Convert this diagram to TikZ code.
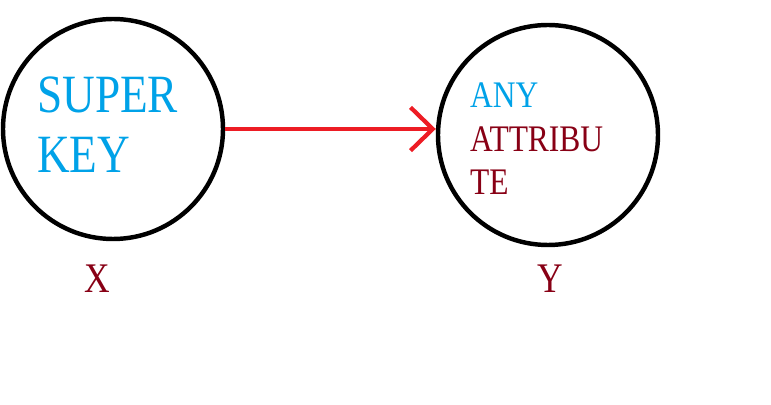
\documentclass[tikz,border=0pt]{standalone}
\usepackage{fontspec}
\setmainfont{Liberation Serif}
\usetikzlibrary{arrows.meta}
\definecolor{keyblue}{HTML}{00A2E8}
\definecolor{attrred}{HTML}{880015}
\definecolor{fdred}{HTML}{ED1C24}
\newcommand{\narrow}[1]{\scalebox{0.84}[1]{#1}}

\begin{document}
\begin{tikzpicture}[x=0.03cm,y=-0.03cm,
    set/.style={draw, circle, line width=3.8pt, minimum size=6.6cm, inner sep=0pt},
    bigword/.style={anchor=base west, inner sep=0pt, text=keyblue, font=\rmfamily\fontsize{46}{46}\selectfont},
    word/.style={anchor=base west, inner sep=0pt, font=\rmfamily\fontsize{32}{32}\selectfont},
    setname/.style={anchor=base, inner sep=0pt, text=attrred, font=\rmfamily\fontsize{36}{36}\selectfont}]
                \useasboundingbox (0,0) rectangle (771,405);
                \node[set] at (113,129) (superkey) {};
                \node[set] at (548,135) (anyattr) {};
                \node[bigword] at (37,113) (super) {\narrow{SUPER}};
                \node[bigword] at (37,173) (key) {\narrow{KEY}};
                \node[word, text=keyblue] at (470,108) (any) {\narrow{ANY}};
                \node[word, text=attrred] at (470,152) (attri) {\narrow{ATTRIBU}};
                \node[word, text=attrred] at (470,195) (te) {\narrow{TE}};
                \node[setname] at (97,293) (x) {\narrow{X}};
                \node[setname] at (550,293) (y) {\narrow{Y}};
                \draw[fdred, line width=3.6pt, -{Straight Barb[length=19pt, width=37pt, line width=3.6pt]}]
                    (superkey.east) -- (anyattr.west |- superkey.east);
\end{tikzpicture}
\end{document}
